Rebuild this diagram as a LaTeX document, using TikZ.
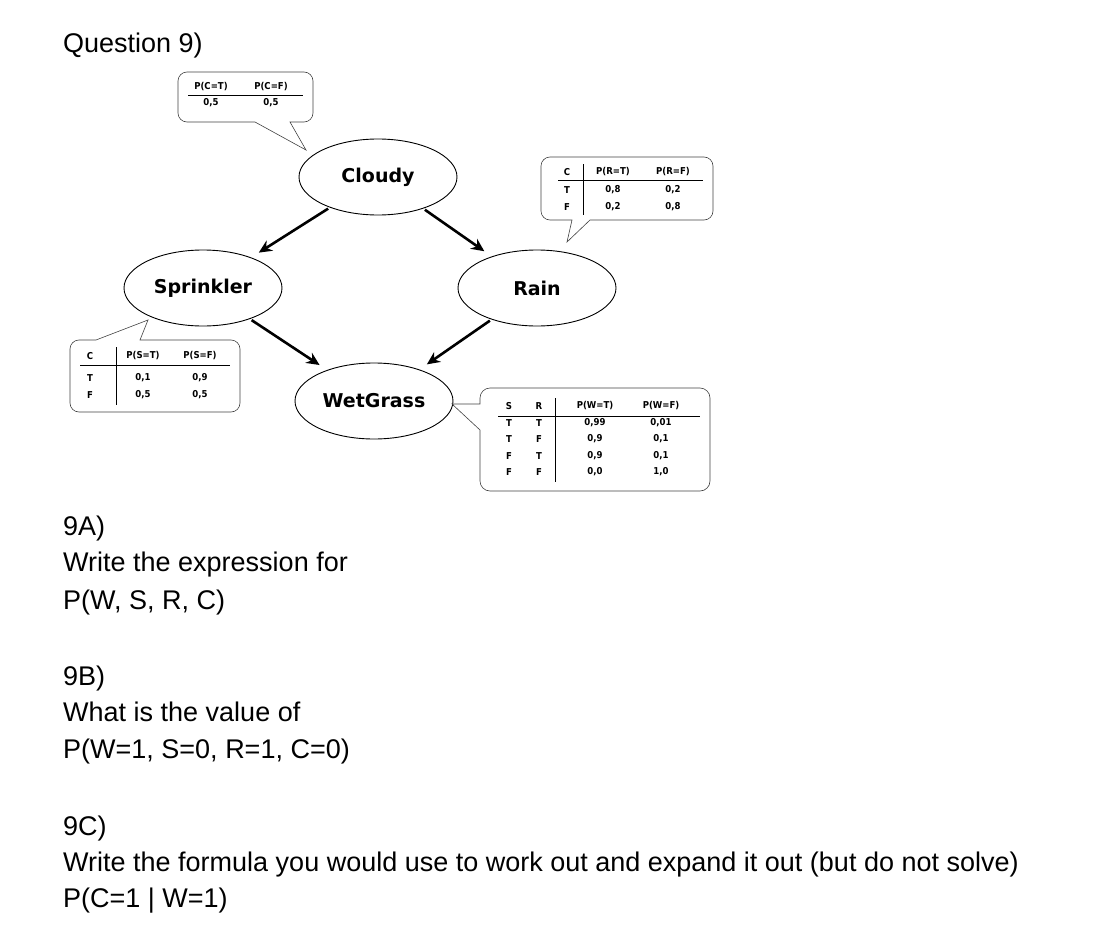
\documentclass[tikz,border=0pt]{standalone}
\usepackage{fontspec}
\setmainfont{Liberation Sans}
\newfontfamily\djfont{DejaVu Sans}
\newfontfamily\djcfont{DejaVu Sans Condensed}
\usetikzlibrary{arrows.meta,shapes.geometric}
\begin{document}
\begin{tikzpicture}[x=1pt,y=-1pt,
  txt/.style={anchor=base west,inner sep=0,font=\fontsize{27}{30}\selectfont},
  var/.style={draw,ellipse,line width=0.9pt,minimum width=158,minimum height=76,font=\djfont\bfseries\fontsize{19}{20}\selectfont},
  arr/.style={line width=2.6pt,-{Stealth[length=13pt,width=12pt]},shorten >=9pt,shorten <=2pt},
  tb/.style={inner sep=0,font=\djcfont\bfseries\fontsize{9.5}{10}\selectfont},
  call/.style={line width=0.6pt,draw=black!75},
  rl/.style={line width=0.9pt}]
\useasboundingbox (0,0) rectangle (1096,926);
\node[txt] (q) at (63,52) {Question 9)};
\node[txt] (a1) at (63,535) {9A)};
\node[txt] (a2) at (63,571) {Write the expression for};
\node[txt] (a3) at (63,609) {P(W, S, R, C)};
\node[txt] (b1) at (63,685) {9B)};
\node[txt] (b2) at (63,721) {What is the value of};
\node[txt] (b3) at (63,758) {P(W=1, S=0, R=1, C=0)};
\node[txt] (c1) at (63,835) {9C)};
\node[txt] (c2) at (63,871) {Write the formula you would use to work out and expand it out (but do not solve)};
\node[txt] (c3) at (63,907) {P(C=1 | W=1)};

\node[var] (cl) at (378,177) {Cloudy};
\node[var] (sp) at (203,288) {Sprinkler};
\node[var] (rn) at (537,288) {Rain};
\node[var] (wg) at (374,401) {WetGrass};
\draw[arr] (cl) -- (sp);
\draw[arr] (cl) -- (rn);
\draw[arr] (sp) -- (wg);
\draw[arr] (rn) -- (wg);

% C callout
\draw[call] (255,122) [rounded corners=9]-- (178,122) -- (178,72) -- (313,72) -- (313,122) [sharp corners]-- (290,122) -- (306,150) -- cycle;
\node[tb] (c11) at (211,87) {P(C=T)};
\node[tb] (c12) at (271,87) {P(C=F)};
\node[tb] (c21) at (211,103) {0,5};
\node[tb] (c22) at (271,103) {0,5};
\draw[rl] (188,95) -- (303,95);

% R callout
\draw[call] (572,220) [rounded corners=9]-- (541,220) -- (541,157) -- (713,157) -- (713,220) [sharp corners]-- (590,220) -- (567,242) -- cycle;
\node[tb] (r0) at (567,172) {C};
\node[tb] (r1) at (613,172) {P(R=T)};
\node[tb] (r2) at (673,172) {P(R=F)};
\node[tb] (r3) at (567,190) {T};
\node[tb] (r4) at (613,190) {0,8};
\node[tb] (r5) at (673,190) {0,2};
\node[tb] (r6) at (567,207) {F};
\node[tb] (r7) at (613,207) {0,2};
\node[tb] (r8) at (673,207) {0,8};
\draw[rl] (558,180) -- (703,180);
\draw[rl] (583,164) -- (583,215);

% S callout
\draw[call] (96,340) [rounded corners=9]-- (70,340) -- (70,412) -- (240,412) -- (240,340) [sharp corners]-- (140,340) -- (148,320) -- cycle;
\node[tb] (s0) at (90,356) {C};
\node[tb] (s1) at (143,356) {P(S=T)};
\node[tb] (s2) at (200,356) {P(S=F)};
\node[tb] (s3) at (90,378) {T};
\node[tb] (s4) at (143,378) {0,1};
\node[tb] (s5) at (200,378) {0,9};
\node[tb] (s6) at (90,395) {F};
\node[tb] (s7) at (143,395) {0,5};
\node[tb] (s8) at (200,395) {0,5};
\draw[rl] (80,365) -- (230,365);
\draw[rl] (116,347) -- (116,405);

% W callout
\draw[call] (480,430) [rounded corners=10]-- (480,491) -- (710,491) -- (710,388) -- (480,388) [sharp corners]-- (480,404) -- (452,404) -- cycle;
\node[tb] (w0) at (509,406) {S};
\node[tb] (w1) at (539,406) {R};
\node[tb] (w2) at (595,406) {P(W=T)};
\node[tb] (w3) at (661,406) {P(W=F)};
\foreach \s/\r/\p/\q/\y [count=\i] in {T/T/{0,99}/{0,01}/423, T/F/{0,9}/{0,1}/439, F/T/{0,9}/{0,1}/456, F/F/{0,0}/{1,0}/472}{
  \node[tb] (ws\i) at (509,\y) {\s};
  \node[tb] (wr\i) at (539,\y) {\r};
  \node[tb] (wp\i) at (595,\y) {\p};
  \node[tb] (wq\i) at (661,\y) {\q};
}
\draw[rl] (498,416) -- (700,416);
\draw[rl] (555,398) -- (555,482);
\end{tikzpicture}
\end{document}
